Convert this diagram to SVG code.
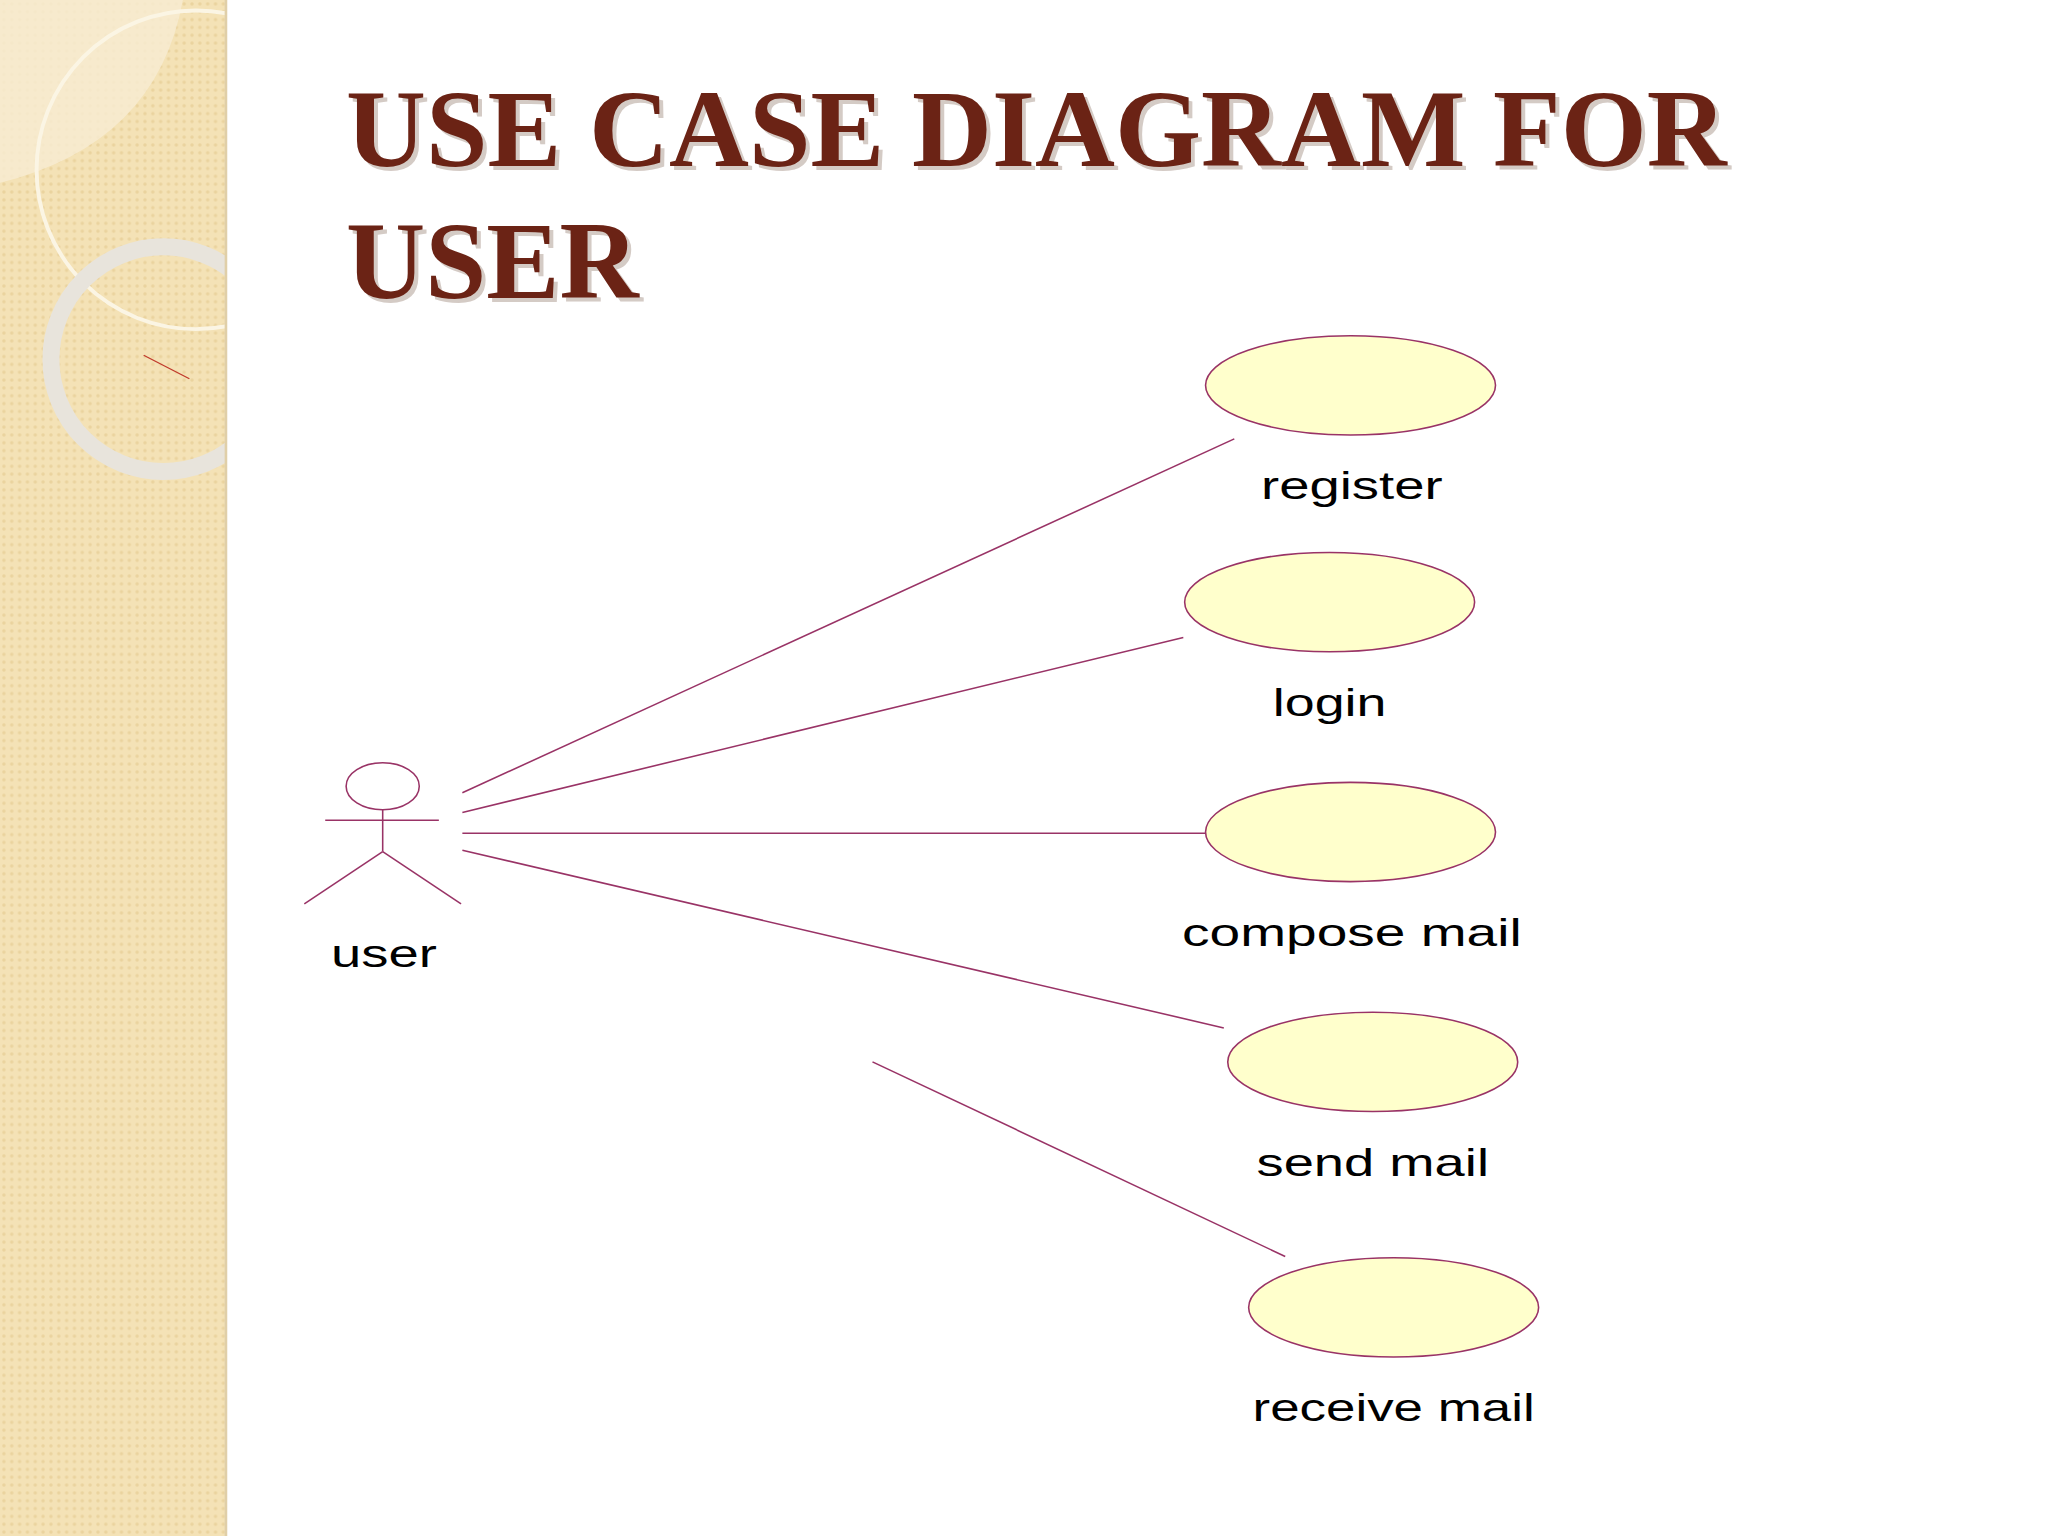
<svg xmlns="http://www.w3.org/2000/svg" width="2048" height="1536" viewBox="0 0 2048 1536">
<defs>
<pattern id="dots" width="6" height="6" patternUnits="userSpaceOnUse">
<rect width="6" height="6" fill="#f4e2b6"/>
<circle cx="3" cy="3" r="1.3" fill="#ead39e"/>
</pattern>
<clipPath id="strip"><rect x="0" y="0" width="173" height="1176"/></clipPath>
</defs>
<style>
.uc{fill:#ffffcc;stroke:#993366;stroke-width:1.2}
.lbl{font-family:"Liberation Sans",Arial,sans-serif;font-size:30px;fill:#000;text-anchor:middle}
.ln{stroke:#993366;stroke-width:1.2;fill:none}
.title{font-family:"Liberation Serif","Times New Roman",serif;font-weight:bold;font-size:84px;fill:#6b2315}
.shadow{font-family:"Liberation Serif","Times New Roman",serif;font-weight:bold;font-size:84px;fill:#b9a9a0;opacity:0.6}
</style>
<rect width="2048" height="1536" fill="#fff"/>
<g transform="scale(1.30612)">
<g id="background">
<rect x="0" y="0" width="173" height="1176" fill="url(#dots)"/>
<g clip-path="url(#strip)">
<path d="M0 0 H140 Q120 110 0 140 Z" fill="#f7ecd3" opacity="0.8"/>
<circle cx="150" cy="130" r="122" fill="none" stroke="#fbf5e4" stroke-width="3"/>
<circle cx="125" cy="275" r="86" fill="none" stroke="#e8e4dc" stroke-width="13"/>
</g>
<line x1="173" y1="0" x2="173" y2="1176" stroke="#e0cfa8" stroke-width="2"/>
<line x1="110" y1="272" x2="145" y2="290" stroke="#c0392b" stroke-width="1"/>
</g>
<g id="title">
<text class="shadow" x="268" y="130" textLength="1057" lengthAdjust="spacingAndGlyphs">USE CASE DIAGRAM FOR</text>
<text class="shadow" x="268" y="231" textLength="224" lengthAdjust="spacingAndGlyphs">USER</text>
<text class="title" x="265" y="127" textLength="1057" lengthAdjust="spacingAndGlyphs">USE CASE DIAGRAM FOR</text>
<text class="title" x="265" y="228" textLength="224" lengthAdjust="spacingAndGlyphs">USER</text>
</g>
<g id="connectors">
<line class="ln" x1="354" y1="607" x2="945" y2="336"/>
<line class="ln" x1="354" y1="622" x2="906" y2="488"/>
<line class="ln" x1="354" y1="638" x2="923" y2="638"/>
<line class="ln" x1="354" y1="651" x2="937" y2="787"/>
<line class="ln" x1="668" y1="813" x2="984" y2="962"/>
</g>
<g id="actor-user">
<ellipse class="ln" cx="293" cy="602" rx="28" ry="18"/>
<line class="ln" x1="249" y1="628" x2="336" y2="628"/>
<line class="ln" x1="293" y1="620" x2="293" y2="652"/>
<line class="ln" x1="293" y1="652" x2="233" y2="692"/>
<line class="ln" x1="293" y1="652" x2="353" y2="692"/>
<text class="lbl" x="294" y="740" textLength="81" lengthAdjust="spacingAndGlyphs">user</text>
</g>
<g id="uc-register"><ellipse class="uc" cx="1034" cy="295" rx="111" ry="38"/><text class="lbl" x="1035" y="382" textLength="139" lengthAdjust="spacingAndGlyphs">register</text></g>
<g id="uc-login"><ellipse class="uc" cx="1018" cy="461" rx="111" ry="38"/><text class="lbl" x="1018" y="548" textLength="87" lengthAdjust="spacingAndGlyphs">login</text></g>
<g id="uc-compose"><ellipse class="uc" cx="1034" cy="637" rx="111" ry="38"/><text class="lbl" x="1035" y="724" textLength="260" lengthAdjust="spacingAndGlyphs">compose mail</text></g>
<g id="uc-send"><ellipse class="uc" cx="1051" cy="813" rx="111" ry="38"/><text class="lbl" x="1051" y="900" textLength="178" lengthAdjust="spacingAndGlyphs">send mail</text></g>
<g id="uc-receive"><ellipse class="uc" cx="1067" cy="1001" rx="111" ry="38"/><text class="lbl" x="1067" y="1088" textLength="216" lengthAdjust="spacingAndGlyphs">receive mail</text></g>
</g>
</svg>
